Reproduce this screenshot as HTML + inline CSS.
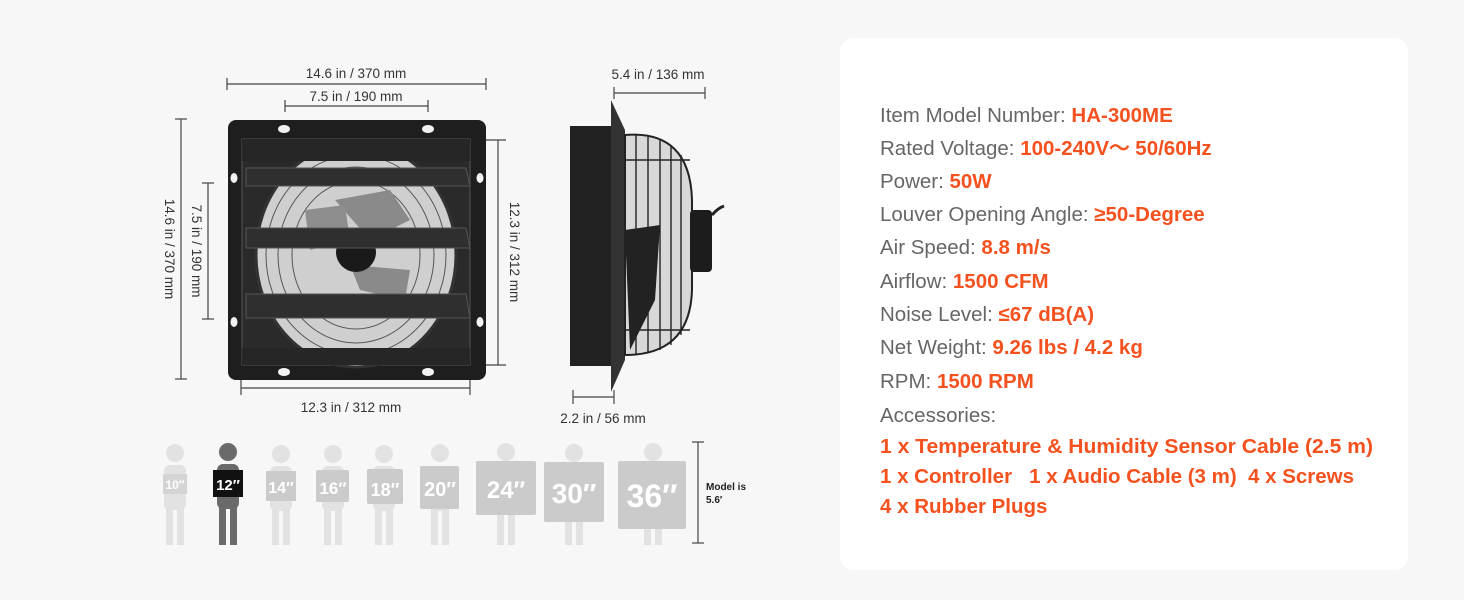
<!DOCTYPE html>
<html><head><meta charset="utf-8"><style>
html,body{margin:0;padding:0;background:#f7f7f7;}
svg{display:block}
</style></head><body>
<svg width="1464" height="600" viewBox="0 0 1464 600" xmlns="http://www.w3.org/2000/svg" font-family="Liberation Sans, sans-serif">
<rect width="1464" height="600" fill="#f7f7f7"/>
<rect x="840" y="38" width="568" height="532" rx="14" fill="#ffffff"/>
<g stroke="#444" stroke-width="1.2" fill="none">
<line x1="227" y1="84" x2="486" y2="84"/><line x1="227" y1="78" x2="227" y2="90"/><line x1="486" y1="78" x2="486" y2="90"/>
<line x1="285" y1="106" x2="428" y2="106"/><line x1="285" y1="100" x2="285" y2="112"/><line x1="428" y1="100" x2="428" y2="112"/>
<line x1="181" y1="119" x2="181" y2="379"/><line x1="175" y1="119" x2="187" y2="119"/><line x1="175" y1="379" x2="187" y2="379"/>
<line x1="208" y1="183" x2="208" y2="319"/><line x1="202" y1="183" x2="214" y2="183"/><line x1="202" y1="319" x2="214" y2="319"/>
<line x1="498" y1="140" x2="498" y2="365"/><line x1="470" y1="140" x2="506" y2="140"/><line x1="470" y1="365" x2="506" y2="365"/>
<line x1="241" y1="388" x2="470" y2="388"/><line x1="241" y1="376" x2="241" y2="395"/><line x1="470" y1="376" x2="470" y2="395"/>
<line x1="614" y1="93" x2="705" y2="93"/><line x1="614" y1="87" x2="614" y2="99"/><line x1="705" y1="87" x2="705" y2="99"/>
<line x1="573" y1="397" x2="614" y2="397"/><line x1="573" y1="390" x2="573" y2="404"/><line x1="614" y1="390" x2="614" y2="404"/>
</g>
<g fill="#333" font-size="13.5">
<text x="356" y="78" text-anchor="middle">14.6 in / 370 mm</text>
<text x="356" y="101" text-anchor="middle">7.5 in / 190 mm</text>
<text x="351" y="412" text-anchor="middle">12.3 in / 312 mm</text>
<text x="658" y="79" text-anchor="middle">5.4 in / 136 mm</text>
<text x="603" y="423" text-anchor="middle">2.2 in / 56 mm</text>
<text transform="translate(165,249) rotate(90)" text-anchor="middle">14.6 in / 370 mm</text>
<text transform="translate(192,251) rotate(90)" text-anchor="middle">7.5 in / 190 mm</text>
<text transform="translate(510,252) rotate(90)" text-anchor="middle">12.3 in / 312 mm</text>
</g>
<rect x="228" y="120" width="258" height="260" rx="8" fill="#1e1e1e"/>
<rect x="242" y="139" width="228" height="226" fill="#2a2a2a" stroke="#555" stroke-width="1"/>
<ellipse cx="356" cy="255" rx="100" ry="112" fill="#cfcfcf" stroke="#333" stroke-width="3"/>
<g stroke="#555" stroke-width="1" fill="none">
<ellipse cx="356" cy="255" rx="90" ry="100"/><ellipse cx="356" cy="255" rx="78" ry="88"/><ellipse cx="356" cy="255" rx="64" ry="74"/>
</g>
<path d="M335 200 L390 190 L410 220 L370 240 Z" fill="#8a8a8a"/>
<path d="M305 210 L345 205 L350 240 L310 250 Z" fill="#8e8e8e"/>
<path d="M350 265 L410 270 L405 300 L360 290 Z" fill="#8a8a8a"/>
<circle cx="356" cy="252" r="20" fill="#1a1a1a"/>
<rect x="242" y="139" width="228" height="22" fill="#262626"/>
<rect x="242" y="348" width="228" height="17" fill="#262626"/>
<path d="M246 168 L466 168 L470 186 L246 186 Z" fill="#2f2f2f" stroke="#555"/>
<path d="M246 228 L466 228 L470 248 L246 248 Z" fill="#2f2f2f" stroke="#555"/>
<path d="M246 294 L466 294 L470 318 L246 318 Z" fill="#2f2f2f" stroke="#555"/>
<g fill="#f2f2f2">
<ellipse cx="284" cy="129" rx="6" ry="4"/><ellipse cx="428" cy="129" rx="6" ry="4"/>
<ellipse cx="284" cy="372" rx="6" ry="4"/><ellipse cx="428" cy="372" rx="6" ry="4"/>
<ellipse cx="234" cy="178" rx="3.5" ry="5"/><ellipse cx="480" cy="178" rx="3.5" ry="5"/>
<ellipse cx="234" cy="322" rx="3.5" ry="5"/><ellipse cx="480" cy="322" rx="3.5" ry="5"/>
</g>
<rect x="570" y="126" width="43" height="240" fill="#222"/>
<path d="M611 100 L625 130 L625 360 L611 392 Z" fill="#333"/>
<path d="M625 135 Q690 130 692 200 L692 290 Q690 355 625 355 Z" fill="#d8d8d8" stroke="#222" stroke-width="2"/>
<g stroke="#222" stroke-width="1.4" fill="none">
<path d="M636 135 V355"/><path d="M648 137 V353"/><path d="M660 140 V350"/><path d="M671 145 V345"/><path d="M681 155 V335"/>
<path d="M625 160 H690"/><path d="M625 330 H690"/>
</g>
<path d="M625 230 L660 225 L655 300 L630 350 Z" fill="#222"/>
<rect x="690" y="210" width="22" height="62" rx="4" fill="#1c1c1c"/>
<path d="M712 215 Q718 208 724 206" stroke="#222" stroke-width="3" fill="none"/>
<g font-weight="bold" text-anchor="middle" fill="#fff">
<g fill="#e2e2e2"><circle cx="175" cy="453" r="9"/><rect x="164" y="465" width="22" height="45" rx="6"/><rect x="166" y="505" width="7" height="40"/><rect x="177" y="505" width="7" height="40"/></g>
<rect x="163" y="474" width="24" height="20" fill="#d4d4d4"/><text x="175" y="489" font-size="12">10″</text>
<g fill="#6a6a6a"><circle cx="228" cy="452" r="9"/><rect x="217" y="464" width="22" height="45" rx="6"/><rect x="219" y="505" width="7" height="40"/><rect x="230" y="505" width="7" height="40"/></g>
<rect x="213" y="470" width="30" height="27" fill="#111"/><text x="228" y="490" font-size="15">12″</text>
<g fill="#e2e2e2">
<circle cx="281" cy="454" r="9"/><rect x="270" y="466" width="22" height="45" rx="6"/><rect x="272" y="505" width="7" height="40"/><rect x="283" y="505" width="7" height="40"/>
<circle cx="333" cy="454" r="9"/><rect x="322" y="466" width="22" height="45" rx="6"/><rect x="324" y="505" width="7" height="40"/><rect x="335" y="505" width="7" height="40"/>
<circle cx="384" cy="454" r="9"/><rect x="373" y="466" width="22" height="45" rx="6"/><rect x="375" y="505" width="7" height="40"/><rect x="386" y="505" width="7" height="40"/>
<circle cx="440" cy="453" r="9"/><rect x="429" y="466" width="22" height="45" rx="6"/><rect x="431" y="505" width="7" height="40"/><rect x="442" y="505" width="7" height="40"/>
<circle cx="506" cy="452" r="9"/><rect x="495" y="466" width="22" height="45" rx="6"/><rect x="497" y="505" width="7" height="40"/><rect x="508" y="505" width="7" height="40"/>
<circle cx="574" cy="453" r="9"/><rect x="563" y="466" width="22" height="45" rx="6"/><rect x="565" y="505" width="7" height="40"/><rect x="576" y="505" width="7" height="40"/>
<circle cx="653" cy="452" r="9"/><rect x="642" y="466" width="22" height="45" rx="6"/><rect x="644" y="505" width="7" height="40"/><rect x="655" y="505" width="7" height="40"/>
</g>
<g fill="#cbcbcb">
<rect x="266" y="471" width="30" height="30"/><rect x="316" y="470" width="33" height="32" rx="2"/><rect x="367" y="469" width="36" height="35" rx="2"/>
<rect x="420" y="466" width="39" height="43" rx="2"/><rect x="476" y="461" width="60" height="54" rx="2"/>
<rect x="544" y="462" width="60" height="60" rx="2"/><rect x="618" y="461" width="68" height="68" rx="2"/>
</g>
<text x="281" y="493" font-size="16">14″</text><text x="333" y="494" font-size="17">16″</text><text x="385" y="496" font-size="18">18″</text>
<text x="440" y="496" font-size="20">20″</text><text x="506" y="498" font-size="24">24″</text><text x="574" y="503" font-size="28">30″</text><text x="652" y="507" font-size="32">36″</text>
</g>
<g stroke="#444" stroke-width="1.2"><line x1="698" y1="442" x2="698" y2="543"/><line x1="692" y1="442" x2="704" y2="442"/><line x1="692" y1="543" x2="704" y2="543"/></g>
<text x="706" y="490" font-size="10" font-weight="bold" fill="#222">Model is</text>
<text x="706" y="503" font-size="10" font-weight="bold" fill="#222">5.6′</text>
<g font-size="20.5" fill="#666">
<text x="880" y="122">Item Model Number: <tspan fill="#f4511e" font-weight="bold">HA-300ME</tspan></text>
<text x="880" y="155">Rated Voltage: <tspan fill="#f4511e" font-weight="bold">100-240V～ 50/60Hz</tspan></text>
<text x="880" y="188">Power: <tspan fill="#f4511e" font-weight="bold">50W</tspan></text>
<text x="880" y="221">Louver Opening Angle: <tspan fill="#f4511e" font-weight="bold">≥50-Degree</tspan></text>
<text x="880" y="254">Air Speed: <tspan fill="#f4511e" font-weight="bold">8.8 m/s</tspan></text>
<text x="880" y="288">Airflow: <tspan fill="#f4511e" font-weight="bold">1500 CFM</tspan></text>
<text x="880" y="321">Noise Level: <tspan fill="#f4511e" font-weight="bold">≤67 dB(A)</tspan></text>
<text x="880" y="354">Net Weight: <tspan fill="#f4511e" font-weight="bold">9.26 lbs / 4.2 kg</tspan></text>
<text x="880" y="388">RPM: <tspan fill="#f4511e" font-weight="bold">1500 RPM</tspan></text>
<text x="880" y="422">Accessories:</text>
<g fill="#f4511e" font-weight="bold">
<text x="880" y="453" textLength="493" lengthAdjust="spacingAndGlyphs">1 x Temperature &amp; Humidity Sensor Cable (2.5 m)</text>
<text x="880" y="483" textLength="474" lengthAdjust="spacingAndGlyphs">1 x Controller&#160;&#160;&#160;1 x Audio Cable (3 m)&#160;&#160;4 x Screws</text>
<text x="880" y="513">4 x Rubber Plugs</text>
</g>
</g>
</svg>
</body></html>
